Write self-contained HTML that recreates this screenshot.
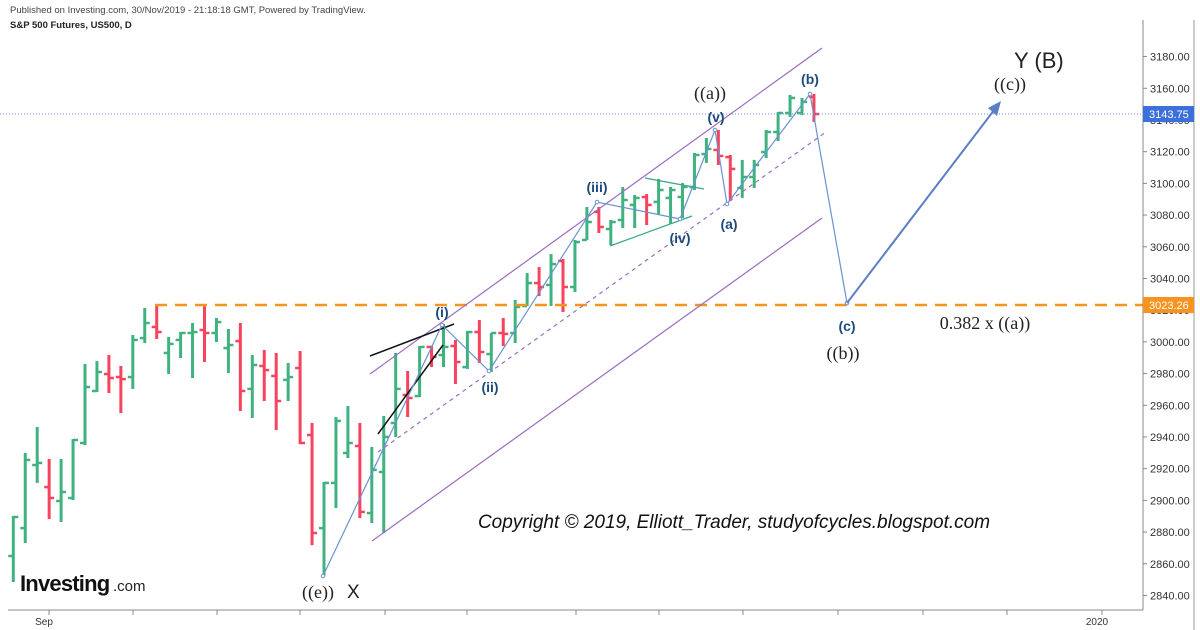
<!DOCTYPE html>
<html><head><meta charset="utf-8"><style>
body{margin:0;background:#fff;}
svg{display:block;font-family:"Liberation Sans",sans-serif;}
</style></head><body>
<svg id="chart" width="1200" height="630" viewBox="0 0 1200 630" xmlns="http://www.w3.org/2000/svg">
<rect width="1200" height="630" fill="#fff"/>
<text x="10" y="13" font-size="9.5" fill="#444">Published on Investing.com, 30/Nov/2019 - 21:18:18 GMT, Powered by TradingView.</text>
<text x="10" y="28" font-size="9.5" font-weight="bold" fill="#222">S&amp;P 500 Futures, US500, D</text>
<g id="grid"></g>
<g id="bars"></g>
<g id="overlay"></g>
<g id="axes"></g>
</svg>
<script>
const opens=[2864.9,2882.5,2922.3,2908.4,2899.6,2901.5,2936.2,2969.0,2979.7,2977.8,2977.8,3002.4,3009.4,2993.0,3001.2,3005.6,3007.5,3005.6,2996.1,3000.5,2970.3,2984.8,2978.5,2976.0,2983.5,2941.2,2882.5,2911.0,2929.9,2934.3,2892.0,2917.9,2948.8,2966.5,2965.8,2996.8,2991.7,2997.4,2984.1,3006.2,2992.3,3005.6,3005.6,3022.6,3037.1,3035.9,3051.0,3034.6,3064.3,3082.0,3071.2,3076.9,3086.4,3091.4,3088.3,3090.8,3091.4,3097.7,3118.5,3121.1,3116.6,3097.1,3104.0,3119.8,3132.4,3144.4,3144.4,3154.5];
const highs=[2890.1,2929.9,2946.3,2926.1,2926.1,2938.7,2986.0,2987.9,2991.7,2984.8,3004.3,3021.4,3023.3,3003.1,3006.2,3011.9,3022.6,3015.1,3008.1,3011.9,2991.7,2994.9,2993.0,2986.7,2994.2,2948.8,2911.6,2952.6,2959.5,2948.8,2933.7,2953.2,2993.0,2981.6,2997.4,2997.4,3011.3,3001.2,3006.9,3013.8,3005.6,3015.1,3026.4,3043.4,3047.2,3055.4,3052.3,3064.3,3085.1,3085.1,3076.9,3097.7,3092.7,3093.3,3102.8,3097.7,3100.2,3119.2,3128.6,3133.7,3117.9,3114.8,3114.8,3133.7,3145.0,3155.8,3153.9,3156.4];
const lows=[2848.5,2873.1,2911.0,2888.2,2886.4,2900.2,2934.9,2968.4,2967.7,2955.1,2970.3,2999.3,3001.8,2979.7,2989.8,2977.2,2987.3,2999.9,2980.4,2956.4,2952.0,2962.7,2944.4,2962.7,2935.5,2871.8,2852.3,2895.2,2926.7,2888.9,2885.7,2879.4,2940.0,2952.6,2965.2,2984.1,2984.1,2973.4,2982.9,2986.7,2981.0,2997.4,2999.3,3022.6,3028.9,3022.6,3018.8,3031.5,3064.3,3068.7,3061.1,3071.8,3071.8,3073.7,3080.7,3074.4,3078.2,3095.8,3112.9,3111.6,3088.9,3090.8,3097.1,3116.0,3126.7,3141.9,3143.1,3138.7];
const closes=[2889.5,2925.5,2923.6,2901.5,2905.3,2938.1,2971.5,2981.0,2977.2,2976.5,3001.2,3011.9,3006.2,2998.7,3005.6,3006.2,3005.6,3012.5,2998.0,2969.0,2985.4,2982.2,2962.7,2977.8,2936.2,2879.4,2911.0,2950.1,2936.2,2892.7,2919.2,2940.0,2970.3,2964.6,2996.8,2990.5,2996.8,2987.3,3006.2,2993.6,3005.6,3005.0,3022.0,3037.1,3034.6,3049.1,3034.6,3063.0,3075.6,3072.5,3075.6,3089.5,3090.8,3086.4,3095.8,3095.8,3097.7,3117.9,3121.7,3117.3,3109.1,3104.0,3111.6,3132.4,3144.4,3153.9,3151.4,3143.75];
const priceTicks=[3180,3160,3140,3120,3100,3080,3060,3040,3020,3000,2980,2960,2940,2920,2900,2880,2860,2840];
const lastPrice=3143.75;
const levelPrice=3023.26;
const xTickPx=[49,133,217,300,385,467,576,659,743,838,923,1007,1102];
const xTickLabels=["Sep","","","","","","","","","","","","2020"];

const NS="http://www.w3.org/2000/svg";
const yOf=p=>305-(p-levelPrice)*1.585;
const xOf=i=>13.3+i*11.95;
function mk(tag,attrs,parent,txt){const e=document.createElementNS(NS,tag);for(const k in attrs)e.setAttribute(k,attrs[k]);if(txt!==undefined)e.textContent=txt;parent.appendChild(e);return e;}
const G=id=>document.getElementById(id);

const bg=G('bars');
for(let i=0;i<opens.length;i++){
  const x=xOf(i),col=closes[i]<opens[i]?'#f7435e':'#3fb27f';
  const g=mk('g',{},bg);
  
  
  mk('line',{x1:x,x2:x,y1:yOf(highs[i]),y2:yOf(lows[i]),stroke:col,'stroke-width':3},g);
  mk('line',{x1:x-5,x2:x,y1:yOf(opens[i]),y2:yOf(opens[i]),stroke:col,'stroke-width':2.5},g);
  mk('line',{x1:x,x2:x+5,y1:yOf(closes[i]),y2:yOf(closes[i]),stroke:col,'stroke-width':2.5},g);
}

const ov=G('overlay');
function L(i1,p1,i2,p2,attrs,name){const e=mk('line',Object.assign({x1:xOf(i1),y1:yOf(p1),x2:xOf(i2),y2:yOf(p2)},attrs),ov);return e;}
const ix=x=>(x-13.3)/11.95, pr=y=>levelPrice-(y-305)/1.585;
let e=mk('line',{x1:0,x2:1143,y1:yOf(lastPrice),y2:yOf(lastPrice),stroke:'#6f8fe0','stroke-width':1,'stroke-dasharray':'1 2'},ov);


e=mk('line',{x1:155,x2:1143,y1:yOf(levelPrice),y2:yOf(levelPrice),stroke:'#f7941d','stroke-width':2.5,'stroke-dasharray':'12 8'},ov);


L(ix(370),pr(374),ix(822),pr(48),{stroke:'#9b6cc4','stroke-width':1.2},'channel-upper');
L(ix(372),pr(541),ix(822),pr(218),{stroke:'#9b6cc4','stroke-width':1.2},'channel-lower');
L(ix(378),pr(452),ix(826),pr(132),{stroke:'#9b6cc4','stroke-width':1.2,'stroke-dasharray':'4 4'},'channel-mid');
L(ix(370),pr(356),ix(454),pr(324),{stroke:'#111','stroke-width':1.5},'wedge-upper');
L(ix(378),pr(434),ix(443),pr(345),{stroke:'#111','stroke-width':1.5},'wedge-lower');
L(ix(645),pr(178),ix(704),pr(189),{stroke:'#3aa58a','stroke-width':1.2},'triangle-upper');
L(ix(610),pr(246),ix(692),pr(216),{stroke:'#3aa58a','stroke-width':1.2},'triangle-lower');
const wave=[[323,576],[442,325],[489,371],[597,202],[680,219],[715,130],[727,204],[810,94],[847,303]];
e=mk('polyline',{points:wave.map(p=>xOf(ix(p[0]))+','+yOf(pr(p[1]))).join(' '),fill:'none',stroke:'#6a93cf','stroke-width':1.2},ov);


wave.forEach(p=>{const c=mk('circle',{cx:p[0],cy:p[1],r:1.8,fill:'#fff',stroke:'#6a93cf','stroke-width':1},ov);});
L(ix(847),pr(303),ix(998),pr(105),{stroke:'#5b7fc4','stroke-width':2},'projection-arrow');
e=mk('polygon',{points:'1001,101 988,108 997,116',fill:'#5b7fc4'},ov);


const labs=[['(i)',442,317,'wave-i-label'],['(ii)',490,392,'wave-ii-label'],['(iii)',597,192,'wave-iii-label'],['(iv)',680,243,'wave-iv-label'],['(v)',716,122,'wave-v-label'],['(a)',729,229,'wave-a-label'],['(b)',810,84,'wave-b-label'],['(c)',847,331,'wave-c-label']];
labs.forEach(l=>{const t=mk('text',{x:l[1],y:l[2],'font-size':14,'font-weight':'bold',fill:'#1d4a7c','text-anchor':'middle'},ov,l[0]);});
const serif=[['((a))',710,99,'wave-aa-label'],['((c))',1010,90,'wave-cc-label'],['((b))',843,359,'wave-bb-label'],['0.382 x ((a))',985,329,'ratio-label'],['((e))',318,598,'wave-ee-label']];
serif.forEach(l=>{const t=mk('text',{x:l[1],y:l[2],'font-size':18,fill:'#222','text-anchor':'middle','font-family':'Liberation Serif, serif'},ov,l[0]);});
e=mk('text',{x:347,y:598,'font-size':19,fill:'#222'},ov,'X');


e=mk('text',{x:1014,y:68,'font-size':22,fill:'#222'},ov,'Y (B)');


e=mk('text',{x:734,y:528,'font-size':19,'font-style':'italic',fill:'#111','text-anchor':'middle'},ov,'Copyright © 2019, Elliott_Trader, studyofcycles.blogspot.com');


e=mk('text',{x:20,y:591,'font-size':22,'font-weight':'bold',fill:'#111','letter-spacing':'-0.8'},ov,'Investing');


e=mk('text',{x:113,y:591,'font-size':15,fill:'#222'},ov,'.com');



const ax=G('axes');
e=mk('line',{x1:1143,x2:1143,y1:20,y2:610,stroke:'#888','stroke-width':1},ax);


e=mk('line',{x1:1194,x2:1194,y1:20,y2:630,stroke:'#999','stroke-width':1},ax);


e=mk('line',{x1:8,x2:1143,y1:610,y2:610,stroke:'#888','stroke-width':1},ax);


priceTicks.forEach(p=>{const y=yOf(p);mk('line',{x1:1143,x2:1147,y1:y,y2:y,stroke:'#888'},ax);const t=mk('text',{x:1150,y:y+4,'font-size':11,fill:'#333'},ax,p.toFixed(2));});
xTickPx.forEach((x,k)=>{mk('line',{x1:x,x2:x,y1:610,y2:615,stroke:'#888'},ax);if(xTickLabels[k]){const t=mk('text',{x:x-5,y:625,'font-size':10,fill:'#333','text-anchor':'middle'},ax,xTickLabels[k]);}});
[[lastPrice,'#3b6fd9','last-price-tag'],[levelPrice,'#f7931e','level-price-tag']].forEach(a=>{const y=yOf(a[0]);const r=mk('rect',{x:1143,y:y-8,width:51,height:16,fill:a[1]},ax);mk('text',{x:1149,y:y+4,'font-size':11,fill:'#fff'},ax,a[0].toFixed(2));});
</script>
</body></html>
